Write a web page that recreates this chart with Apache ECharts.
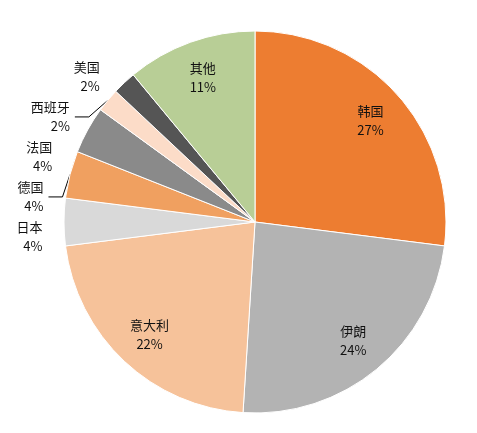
<!DOCTYPE html>
<html><head><meta charset="utf-8">
<script src="https://cdn.jsdelivr.net/npm/echarts@6/dist/echarts.min.js"></script>
<style>html,body{margin:0;background:#fff}#c{width:477px;height:433px}</style>
</head><body><div id="c"></div>
<script>
var names = ['韩国', '伊朗', '意大利', '日本', '德国', '法国', '西班牙', '美国', '其他'];
var values = [27, 24, 22, 4, 4, 4, 2, 2, 11];
var colors = ['#ED7D31', '#B3B3B3', '#F6C29A', '#D9D9D9', '#F0A060', '#8A8A8A', '#FCDCC8', '#555555', '#B8CE96'];
var inside = ['韩国', '伊朗', '意大利', '其他'];

var myChart = echarts.init(document.getElementById('c'));
var txt = { color: '#111', fontSize: 13, lineHeight: 19, fontFamily: 'Noto Sans CJK SC' };

var mainData = names.map(function (n, i) {
  var isIn = inside.indexOf(n) >= 0;
  var showLine = n === '德国' || n === '西班牙';
  return {
    name: n, value: values[i],
    itemStyle: { color: colors[i] },
    label: { show: !isIn, position: 'outside' },
    labelLine: { show: showLine }
  };
});
var labelData = names.map(function (n, i) {
  return {
    name: n, value: values[i],
    itemStyle: { color: 'transparent' },
    label: { show: inside.indexOf(n) >= 0 }
  };
});

var option = {
  animation: false,
  series: [
    {
      type: 'pie',
      center: [255, 222],
      radius: [0, 191],
      startAngle: 90,
      clockwise: true,
      itemStyle: { borderColor: '#fff', borderWidth: 1 },
      label: Object.assign({ formatter: '{b}\n{c}%', align: 'center' }, txt),
      labelLine: { length: 8, length2: 14, lineStyle: { color: '#000', width: 1 } },
      data: mainData
    },
    {
      type: 'pie',
      silent: true,
      center: [255, 222],
      radius: [111, 191],
      startAngle: 90,
      label: Object.assign({ position: 'inside', formatter: '{b}\n{c}%' }, txt),
      labelLine: { show: false },
      data: labelData
    }
  ]
};
myChart.setOption(option);
</script></body></html>
